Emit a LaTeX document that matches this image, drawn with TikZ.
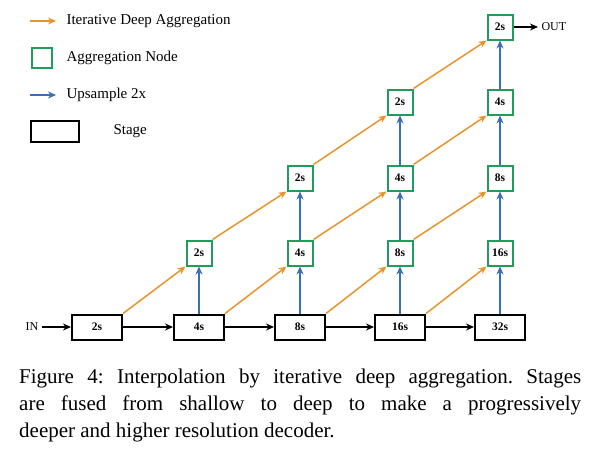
\documentclass[tikz,border=0pt]{standalone}
\usepackage{fontspec}
\setmainfont{Liberation Serif}
\usetikzlibrary{arrows.meta}
\begin{document}
\begin{tikzpicture}[x=1pt,y=-1pt,
  stg/.style={draw,line width=2pt,minimum width=50pt,minimum height=25pt,inner sep=0,font=\fontsize{11.5}{12}\selectfont\bfseries},
  agg/.style={draw=aggc,line width=2pt,minimum width=25pt,minimum height=25pt,inner sep=0,font=\fontsize{11.5}{12}\selectfont\bfseries},
  oa/.style={draw=orc,line width=1.5pt,-{Stealth[length=8pt,width=7pt]}},
  ba/.style={draw=blc,line width=1.5pt,-{Stealth[length=8pt,width=7pt]}},
  ka/.style={draw=black,line width=1.5pt,-{Stealth[length=8pt,width=7pt]}},
  lab/.style={anchor=west,font=\fontsize{15}{16}\selectfont}]
\definecolor{aggc}{HTML}{1E9E5A}
\definecolor{orc}{HTML}{E8942A}
\definecolor{blc}{HTML}{3A6EB5}
\useasboundingbox (0,0) rectangle (600,458);
% legend
\coordinate (l1a) at (30,21); \coordinate (l1b) at (56,21);
\draw[oa] (l1a) -- (l1b);
\node[lab] (t1) at (63,21) {Iterative Deep Aggregation};
\node[agg,minimum width=20pt,minimum height=20pt] (lg) at (42,58) {};
\node[lab] (t2) at (63,58) {Aggregation Node};
\coordinate (l3a) at (30,95); \coordinate (l3b) at (56,95);
\draw[ba] (l3a) -- (l3b);
\node[lab] (t3) at (63,95) {Upsample 2x};
\node[stg,minimum width=48pt,minimum height=21pt] (ls) at (55,131) {};
\node[lab] (t4) at (110,131) {Stage};
% stages
\node[stg] (s1) at (97,327) {2s};
\node[stg] (s2) at (199,327) {4s};
\node[stg] (s3) at (300,327) {8s};
\node[stg] (s4) at (400,327) {16s};
\node[stg] (s5) at (500,327) {32s};
\node[lab,font=\fontsize{12}{12}\selectfont] (in) at (22,327) {IN};
\draw[ka] (in) -- (s1);
\draw[ka] (s1) -- (s2); \draw[ka] (s2) -- (s3); \draw[ka] (s3) -- (s4); \draw[ka] (s4) -- (s5);
% aggregation nodes
\node[agg] (a11) at (199,253) {2s};
\node[agg] (a12) at (300,253) {4s};
\node[agg] (a13) at (400,253) {8s};
\node[agg] (a14) at (500,253) {16s};
\node[agg] (a22) at (300,178) {2s};
\node[agg] (a23) at (400,178) {4s};
\node[agg] (a24) at (500,178) {8s};
\node[agg] (a33) at (400,102) {2s};
\node[agg] (a34) at (500,102) {4s};
\node[agg] (a44) at (500,27) {2s};
\node[lab,font=\fontsize{12}{12}\selectfont] (out) at (538,27) {OUT};
\draw[ka] (a44) -- (out);
% blue
\draw[ba] (s2) -- (a11); \draw[ba] (s3) -- (a12); \draw[ba] (s4) -- (a13); \draw[ba] (s5) -- (a14);
\draw[ba] (a12) -- (a22); \draw[ba] (a13) -- (a23); \draw[ba] (a14) -- (a24);
\draw[ba] (a23) -- (a33); \draw[ba] (a24) -- (a34);
\draw[ba] (a34) -- (a44);
% orange
\draw[oa] (s1.north east) -- (a11.south west);
\draw[oa] (s2.north east) -- (a12.south west);
\draw[oa] (s3.north east) -- (a13.south west);
\draw[oa] (s4.north east) -- (a14.south west);
\draw[oa] (a11.north east) -- (a22.south west);
\draw[oa] (a12.north east) -- (a23.south west);
\draw[oa] (a13.north east) -- (a24.south west);
\draw[oa] (a22.north east) -- (a33.south west);
\draw[oa] (a23.north east) -- (a34.south west);
\draw[oa] (a33.north east) -- (a44.south west);
% caption
\node[anchor=north west,text width=562pt,align=justify,inner sep=0,font=\fontsize{21}{27}\selectfont\frenchspacing] (cap) at (19,369)
{Figure 4: Interpolation by iterative deep aggregation. Stages\linebreak are fused from shallow to deep to make a progressively\linebreak deeper and higher resolution decoder.};
\end{tikzpicture}
\end{document}
